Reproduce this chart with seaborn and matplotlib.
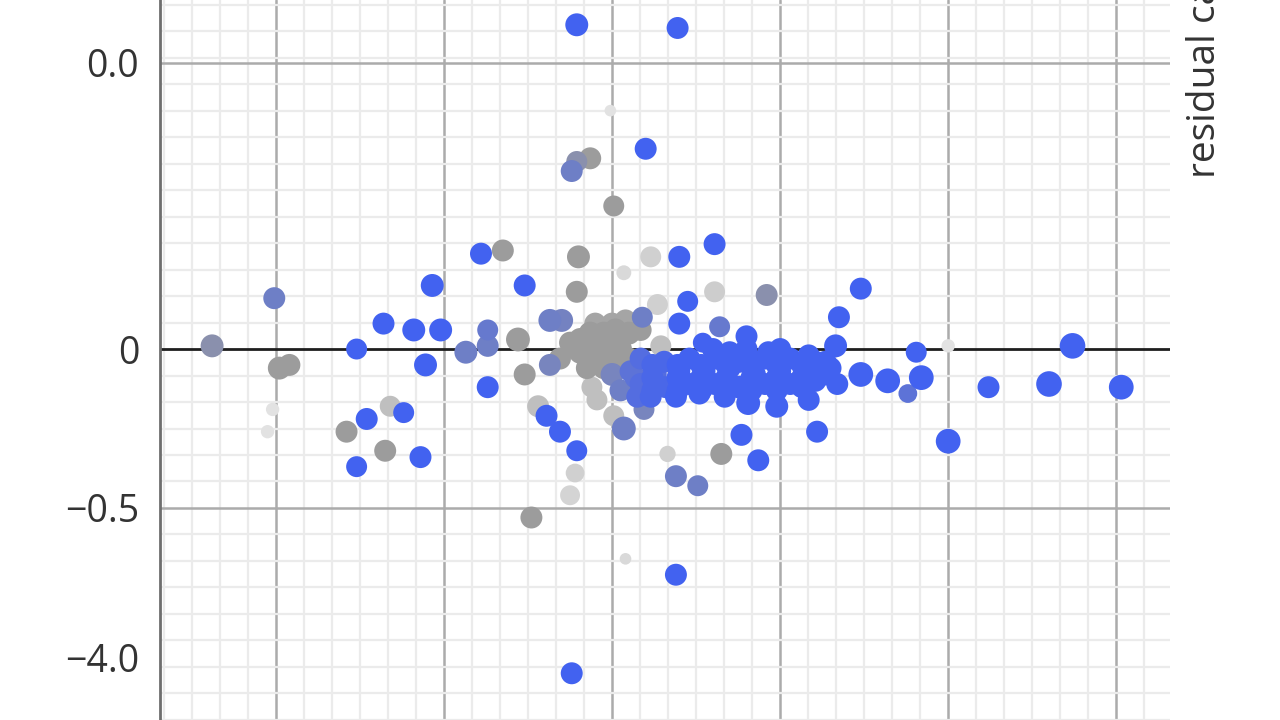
import pandas as pd
import matplotlib
matplotlib.use("Agg")
import matplotlib.pyplot as plt
from matplotlib.colors import LinearSegmentedColormap
from matplotlib.ticker import FixedLocator, MultipleLocator
import seaborn as sns

# ============================================================
# DATA (read off the reference frame)
# ============================================================

# x position (grid units), residual, shade (0 faint -> 0.5 grey -> 1 blue), weight
x_pos = [
    # upper outliers
    2.79, 3.39, 3.20, 2.87, 2.79, 2.76, 3.01, 2.99, 2.22, 2.35, 2.80, 3.40,
    3.61, 3.23, 3.07, 1.93, 2.48, 2.79, 3.45, 3.61, 3.92, 4.48,
    # left side
    0.99, 0.62, 1.02, 1.08, 1.48, 1.64, 1.82, 1.98, 1.89, 2.13, 2.26, 2.26,
    2.44, 2.26, 2.48, 2.63, 2.70, 1.42, 1.54, 1.68, 1.76, 1.65, 1.86, 1.48,
    0.98, 0.95,
    # lower middle
    2.56, 2.61, 2.69, 2.79, 2.78, 2.75, 2.52, 3.08, 3.38, 2.76, 3.07, 3.33,
    3.38, 3.51, 3.65, 3.77, 3.87, 4.22,
    # right side
    5.00, 5.74, 5.60, 6.03, 5.24, 4.81, 4.35, 4.33, 4.48, 4.64, 4.84, 4.76,
    4.34, 3.98, 4.17, 3.81, 5.00,
    # centre, above the line
    3.40, 3.64, 3.80, 3.27, 3.18, 3.54,
    # grey cluster
    2.81, 2.87, 2.95, 3.02, 3.10, 3.17, 2.81, 2.91, 3.01, 3.10, 2.69, 2.63,
    3.00, 2.88, 2.91, 3.01, 3.29, 3.05, 3.19,
    2.85, 2.95, 3.05, 2.90, 3.00, 3.08, 2.75, 2.85, 2.95,
    # dense blue band
    3.17, 3.31, 3.46, 3.62, 3.76, 3.91, 4.06, 4.21,
    3.11, 3.26, 3.40, 3.55, 3.70, 3.85, 4.00, 4.15, 4.30,
    3.17, 3.32, 3.46, 3.61, 3.76, 3.91, 4.06, 4.21,
    3.23, 3.38, 3.52, 3.67, 3.70, 3.93, 4.17, 3.15,
    3.24, 3.39, 3.53, 3.68, 3.83, 3.98, 4.13, 4.27,
    3.14, 3.24, 3.39, 3.53, 3.68, 3.83, 3.98, 4.13, 4.27,
    3.24, 3.39, 3.53, 3.68, 3.83, 3.98, 4.13,
    3.60, 3.80, 4.00,
]

resid = [
    1.02, 1.01, 0.63, 0.60, 0.59, 0.56, 0.45, 0.75, 0.30, 0.31, 0.29, 0.29,
    0.33, 0.29, 0.24, 0.20, 0.20, 0.18, 0.15, 0.18, 0.17, 0.19,
    0.16, 0.01, -0.06, -0.05, 0.00, 0.08, 0.06, 0.06, -0.05, -0.01, 0.06, 0.01,
    0.03, -0.12, -0.08, 0.09, 0.09, -0.26, -0.22, -0.18, -0.20, -0.32, -0.34, -0.37,
    -0.19, -0.26,
    -0.18, -0.21, -0.26, -0.32, -0.39, -0.46, -0.53, -0.66, -0.71, -1.02, -0.25, -0.33,
    -0.40, -0.43, -0.33, -0.27, -0.35, -0.26,
    -0.29, 0.01, -0.11, -0.12, -0.12, -0.01, 0.10, 0.01, -0.08, -0.10, -0.09, -0.14,
    -0.11, -0.18, -0.16, -0.17, 0.01,
    0.08, 0.07, 0.04, 0.14, 0.10, 0.02,
    0.03, 0.05, 0.05, 0.06, 0.05, 0.06, -0.01, -0.03, -0.03, -0.03, -0.03, -0.05,
    -0.08, -0.12, -0.16, -0.21, 0.01, -0.13, -0.19,
    0.00, 0.00, 0.00, 0.08, 0.08, 0.09, 0.02, -0.06, -0.06,
    -0.03, -0.04, -0.03, -0.03, -0.04, -0.03, -0.03, -0.04,
    -0.07, -0.08, -0.07, -0.07, -0.06, -0.08, -0.07, -0.07, -0.06,
    -0.11, -0.12, -0.11, -0.11, -0.12, -0.11, -0.11, -0.10,
    -0.15, -0.15, -0.14, -0.15, -0.01, -0.01, -0.02, -0.15,
    -0.05, -0.05, -0.05, -0.05, -0.05, -0.05, -0.05, -0.04,
    -0.09, -0.09, -0.09, -0.09, -0.09, -0.09, -0.09, -0.09, -0.08,
    -0.13, -0.13, -0.13, -0.13, -0.13, -0.13, -0.12,
    0.00, 0.00, 0.00,
]

shade = [
    1.0, 1.0, 1.0, 0.5, 0.6, 0.75, 0.5, 0.1, 1.0, 0.5, 0.5, 1.0,
    1.0, 0.2, 0.15, 1.0, 1.0, 0.5, 1.0, 0.22, 0.6, 1.0,
    0.75, 0.6, 0.5, 0.5, 1.0, 1.0, 1.0, 1.0, 1.0, 0.75, 0.8, 0.75,
    0.5, 1.0, 0.5, 0.75, 0.72, 0.5, 1.0, 0.3, 1.0, 0.5, 1.0, 1.0,
    0.1, 0.1,
    0.3, 1.0, 1.0, 1.0, 0.2, 0.18, 0.5, 0.15, 1.0, 1.0, 0.75, 0.2,
    0.75, 0.75, 0.5, 1.0, 1.0, 1.0,
    1.0, 1.0, 1.0, 1.0, 1.0, 1.0, 1.0, 1.0, 1.0, 1.0, 1.0, 0.85,
    1.0, 1.0, 1.0, 1.0, 0.1,
    1.0, 0.8, 1.0, 0.2, 0.75, 1.0,
    0.5, 0.5, 0.5, 0.5, 0.5, 0.5, 0.5, 0.5, 0.5, 0.5, 0.5, 0.7,
    0.7, 0.3, 0.3, 0.3, 0.3, 0.75, 0.7,
    0.5, 0.5, 0.5, 0.45, 0.45, 0.45, 0.5, 0.5, 0.5,
    0.9, 0.95, 1.0, 1.0, 1.0, 1.0, 1.0, 1.0,
    0.85, 0.9, 1.0, 1.0, 1.0, 1.0, 1.0, 1.0, 1.0,
    0.9, 0.95, 1.0, 1.0, 1.0, 1.0, 1.0, 1.0,
    0.95, 1.0, 1.0, 1.0, 1.0, 1.0, 1.0, 0.9,
    0.95, 1.0, 1.0, 1.0, 1.0, 1.0, 1.0, 1.0,
    0.85, 0.95, 1.0, 1.0, 1.0, 1.0, 1.0, 1.0, 1.0,
    0.95, 1.0, 1.0, 1.0, 1.0, 1.0, 1.0,
    1.0, 1.0, 1.0,
]

weight = [
    0.45, 0.40, 0.40, 0.40, 0.35, 0.40, 0.35, 0.00, 0.40, 0.40, 0.45, 0.40,
    0.40, 0.35, 0.10, 0.45, 0.40, 0.40, 0.35, 0.35, 0.40, 0.40,
    0.40, 0.45, 0.45, 0.40, 0.35, 0.40, 0.45, 0.45, 0.45, 0.45, 0.35, 0.40,
    0.50, 0.40, 0.40, 0.45, 0.45, 0.40, 0.40, 0.35, 0.35, 0.40, 0.40, 0.35,
    0.05, 0.05,
    0.40, 0.40, 0.40, 0.35, 0.25, 0.30, 0.40, 0.00, 0.40, 0.40, 0.50, 0.15,
    0.40, 0.35, 0.40, 0.40, 0.40, 0.40,
    0.55, 0.60, 0.60, 0.55, 0.40, 0.35, 0.40, 0.45, 0.55, 0.55, 0.55, 0.25,
    0.40, 0.45, 0.40, 0.50, 0.05,
    0.40, 0.35, 0.40, 0.35, 0.35, 0.30,
    0.45, 0.45, 0.45, 0.45, 0.45, 0.40, 0.45, 0.45, 0.45, 0.40, 0.40, 0.40,
    0.45, 0.35, 0.35, 0.35, 0.35, 0.40, 0.35,
    0.45, 0.45, 0.45, 0.40, 0.40, 0.40, 0.40, 0.40, 0.40,
    0.40, 0.40, 0.40, 0.40, 0.40, 0.40, 0.40, 0.40,
    0.40, 0.40, 0.40, 0.40, 0.40, 0.40, 0.40, 0.40, 0.40,
    0.40, 0.40, 0.40, 0.40, 0.45, 0.40, 0.40, 0.40,
    0.40, 0.40, 0.40, 0.40, 0.40, 0.40, 0.40, 0.40,
    0.40, 0.40, 0.40, 0.40, 0.40, 0.40, 0.40, 0.40,
    0.40, 0.40, 0.40, 0.40, 0.40, 0.40, 0.40, 0.40, 0.40,
    0.40, 0.40, 0.40, 0.40, 0.40, 0.40, 0.40,
    0.40, 0.40, 0.40,
]

# y tick positions and their (odd) labels as shown in the frame
ytick_pos = [0.9, 0.0, -0.5, -0.97]
ytick_labels = ["0.0", "0", "\u22120.5", "\u22124.0"]

df = pd.DataFrame({"x": x_pos, "resid": resid, "shade": shade, "weight": weight})
df = df.sort_values("shade", kind="stable")

# ============================================================
# PLOT
# ============================================================

sns.set_theme(style="white")
plt.rcParams["font.family"] = ["Open Sans", "DejaVu Sans"]

cmap = LinearSegmentedColormap.from_list("shade", ["#f3f3f3", "#9c9c9c", "#4262f0"])

fig = plt.figure(figsize=(12.8, 7.2), dpi=100)
ax = fig.add_axes([160 / 1280, 0, 1010 / 1280, 1])

sns.scatterplot(
    data=df, x="x", y="resid",
    hue="shade", palette=cmap, hue_norm=(0, 1),
    size="weight", sizes=(70, 520), size_norm=(0, 1),
    linewidth=0, legend=False, ax=ax, zorder=3,
)

ax.set_xlim(0.31, 6.32)
ax.set_ylim(-1.167, 1.098)

# grid: major + fine minor lines
ax.set_xticks(range(1, 7))
ax.xaxis.set_minor_locator(MultipleLocator(1 / 6))
ax.yaxis.set_major_locator(FixedLocator(ytick_pos))
ax.set_yticklabels(ytick_labels)
ax.yaxis.set_minor_locator(MultipleLocator(0.5 / 6))
ax.set_axisbelow(True)
ax.grid(which="major", color="#ababab", linewidth=1.8)
ax.grid(which="minor", color="#ebebeb", linewidth=1.6)
for tick in ax.yaxis.get_major_ticks():
    if tick.get_loc() < -0.9 or tick.get_loc() == 0:
        tick.gridline.set_visible(False)

ax.axhline(0, color="#1e1e1e", linewidth=2, zorder=2)

ax.tick_params(axis="x", which="both", length=0, labelbottom=False)
ax.tick_params(axis="y", which="both", length=0, pad=15, labelsize=27, labelcolor="#333333")
ax.set_xlabel("")
ax.set_ylabel("")

for side in ["top", "right", "bottom"]:
    ax.spines[side].set_visible(False)
ax.spines["left"].set_color("#6e6e6e")
ax.spines["left"].set_linewidth(2)

# right-hand axis title, cut off at the top of the frame (as in the reference)
fig.text(1205 / 1280, 1 - 178 / 720, "residual capacity", rotation=90,
         ha="center", va="bottom", fontsize=28, color="#333333")

plt.savefig("out.png", dpi=100)
plt.close()
